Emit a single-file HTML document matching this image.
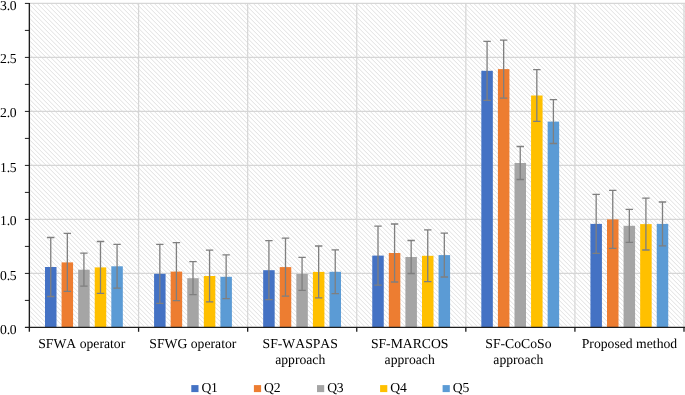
<!DOCTYPE html>
<html><head><meta charset="utf-8"><title>chart</title>
<style>
html,body{margin:0;padding:0;background:#fff;}
body{width:685px;height:395px;overflow:hidden;}
svg{display:block;}
text{font-kerning:none;font-family:"Liberation Serif","Times New Roman",serif;font-size:13.7px;fill:#000;}
</style></head><body>
<svg width="685" height="395" viewBox="0 0 685 395">
<rect x="0" y="0" width="685" height="395" fill="#fff"/>
<clipPath id="pc"><rect x="30.3" y="3.4" width="654.7" height="323.1"/></clipPath>
<path clip-path="url(#pc)" d="M-291.30,3.4l323.10,323.10M-286.80,3.4l323.10,323.10M-282.30,3.4l323.10,323.10M-277.80,3.4l323.10,323.10M-273.30,3.4l323.10,323.10M-268.80,3.4l323.10,323.10M-264.30,3.4l323.10,323.10M-259.80,3.4l323.10,323.10M-255.30,3.4l323.10,323.10M-250.80,3.4l323.10,323.10M-246.30,3.4l323.10,323.10M-241.80,3.4l323.10,323.10M-237.30,3.4l323.10,323.10M-232.80,3.4l323.10,323.10M-228.30,3.4l323.10,323.10M-223.80,3.4l323.10,323.10M-219.30,3.4l323.10,323.10M-214.80,3.4l323.10,323.10M-210.30,3.4l323.10,323.10M-205.80,3.4l323.10,323.10M-201.30,3.4l323.10,323.10M-196.80,3.4l323.10,323.10M-192.30,3.4l323.10,323.10M-187.80,3.4l323.10,323.10M-183.30,3.4l323.10,323.10M-178.80,3.4l323.10,323.10M-174.30,3.4l323.10,323.10M-169.80,3.4l323.10,323.10M-165.30,3.4l323.10,323.10M-160.80,3.4l323.10,323.10M-156.30,3.4l323.10,323.10M-151.80,3.4l323.10,323.10M-147.30,3.4l323.10,323.10M-142.80,3.4l323.10,323.10M-138.30,3.4l323.10,323.10M-133.80,3.4l323.10,323.10M-129.30,3.4l323.10,323.10M-124.80,3.4l323.10,323.10M-120.30,3.4l323.10,323.10M-115.80,3.4l323.10,323.10M-111.30,3.4l323.10,323.10M-106.80,3.4l323.10,323.10M-102.30,3.4l323.10,323.10M-97.80,3.4l323.10,323.10M-93.30,3.4l323.10,323.10M-88.80,3.4l323.10,323.10M-84.30,3.4l323.10,323.10M-79.80,3.4l323.10,323.10M-75.30,3.4l323.10,323.10M-70.80,3.4l323.10,323.10M-66.30,3.4l323.10,323.10M-61.80,3.4l323.10,323.10M-57.30,3.4l323.10,323.10M-52.80,3.4l323.10,323.10M-48.30,3.4l323.10,323.10M-43.80,3.4l323.10,323.10M-39.30,3.4l323.10,323.10M-34.80,3.4l323.10,323.10M-30.30,3.4l323.10,323.10M-25.80,3.4l323.10,323.10M-21.30,3.4l323.10,323.10M-16.80,3.4l323.10,323.10M-12.30,3.4l323.10,323.10M-7.80,3.4l323.10,323.10M-3.30,3.4l323.10,323.10M1.20,3.4l323.10,323.10M5.70,3.4l323.10,323.10M10.20,3.4l323.10,323.10M14.70,3.4l323.10,323.10M19.20,3.4l323.10,323.10M23.70,3.4l323.10,323.10M28.20,3.4l323.10,323.10M32.70,3.4l323.10,323.10M37.20,3.4l323.10,323.10M41.70,3.4l323.10,323.10M46.20,3.4l323.10,323.10M50.70,3.4l323.10,323.10M55.20,3.4l323.10,323.10M59.70,3.4l323.10,323.10M64.20,3.4l323.10,323.10M68.70,3.4l323.10,323.10M73.20,3.4l323.10,323.10M77.70,3.4l323.10,323.10M82.20,3.4l323.10,323.10M86.70,3.4l323.10,323.10M91.20,3.4l323.10,323.10M95.70,3.4l323.10,323.10M100.20,3.4l323.10,323.10M104.70,3.4l323.10,323.10M109.20,3.4l323.10,323.10M113.70,3.4l323.10,323.10M118.20,3.4l323.10,323.10M122.70,3.4l323.10,323.10M127.20,3.4l323.10,323.10M131.70,3.4l323.10,323.10M136.20,3.4l323.10,323.10M140.70,3.4l323.10,323.10M145.20,3.4l323.10,323.10M149.70,3.4l323.10,323.10M154.20,3.4l323.10,323.10M158.70,3.4l323.10,323.10M163.20,3.4l323.10,323.10M167.70,3.4l323.10,323.10M172.20,3.4l323.10,323.10M176.70,3.4l323.10,323.10M181.20,3.4l323.10,323.10M185.70,3.4l323.10,323.10M190.20,3.4l323.10,323.10M194.70,3.4l323.10,323.10M199.20,3.4l323.10,323.10M203.70,3.4l323.10,323.10M208.20,3.4l323.10,323.10M212.70,3.4l323.10,323.10M217.20,3.4l323.10,323.10M221.70,3.4l323.10,323.10M226.20,3.4l323.10,323.10M230.70,3.4l323.10,323.10M235.20,3.4l323.10,323.10M239.70,3.4l323.10,323.10M244.20,3.4l323.10,323.10M248.70,3.4l323.10,323.10M253.20,3.4l323.10,323.10M257.70,3.4l323.10,323.10M262.20,3.4l323.10,323.10M266.70,3.4l323.10,323.10M271.20,3.4l323.10,323.10M275.70,3.4l323.10,323.10M280.20,3.4l323.10,323.10M284.70,3.4l323.10,323.10M289.20,3.4l323.10,323.10M293.70,3.4l323.10,323.10M298.20,3.4l323.10,323.10M302.70,3.4l323.10,323.10M307.20,3.4l323.10,323.10M311.70,3.4l323.10,323.10M316.20,3.4l323.10,323.10M320.70,3.4l323.10,323.10M325.20,3.4l323.10,323.10M329.70,3.4l323.10,323.10M334.20,3.4l323.10,323.10M338.70,3.4l323.10,323.10M343.20,3.4l323.10,323.10M347.70,3.4l323.10,323.10M352.20,3.4l323.10,323.10M356.70,3.4l323.10,323.10M361.20,3.4l323.10,323.10M365.70,3.4l323.10,323.10M370.20,3.4l323.10,323.10M374.70,3.4l323.10,323.10M379.20,3.4l323.10,323.10M383.70,3.4l323.10,323.10M388.20,3.4l323.10,323.10M392.70,3.4l323.10,323.10M397.20,3.4l323.10,323.10M401.70,3.4l323.10,323.10M406.20,3.4l323.10,323.10M410.70,3.4l323.10,323.10M415.20,3.4l323.10,323.10M419.70,3.4l323.10,323.10M424.20,3.4l323.10,323.10M428.70,3.4l323.10,323.10M433.20,3.4l323.10,323.10M437.70,3.4l323.10,323.10M442.20,3.4l323.10,323.10M446.70,3.4l323.10,323.10M451.20,3.4l323.10,323.10M455.70,3.4l323.10,323.10M460.20,3.4l323.10,323.10M464.70,3.4l323.10,323.10M469.20,3.4l323.10,323.10M473.70,3.4l323.10,323.10M478.20,3.4l323.10,323.10M482.70,3.4l323.10,323.10M487.20,3.4l323.10,323.10M491.70,3.4l323.10,323.10M496.20,3.4l323.10,323.10M500.70,3.4l323.10,323.10M505.20,3.4l323.10,323.10M509.70,3.4l323.10,323.10M514.20,3.4l323.10,323.10M518.70,3.4l323.10,323.10M523.20,3.4l323.10,323.10M527.70,3.4l323.10,323.10M532.20,3.4l323.10,323.10M536.70,3.4l323.10,323.10M541.20,3.4l323.10,323.10M545.70,3.4l323.10,323.10M550.20,3.4l323.10,323.10M554.70,3.4l323.10,323.10M559.20,3.4l323.10,323.10M563.70,3.4l323.10,323.10M568.20,3.4l323.10,323.10M572.70,3.4l323.10,323.10M577.20,3.4l323.10,323.10M581.70,3.4l323.10,323.10M586.20,3.4l323.10,323.10M590.70,3.4l323.10,323.10M595.20,3.4l323.10,323.10M599.70,3.4l323.10,323.10M604.20,3.4l323.10,323.10M608.70,3.4l323.10,323.10M613.20,3.4l323.10,323.10M617.70,3.4l323.10,323.10M622.20,3.4l323.10,323.10M626.70,3.4l323.10,323.10M631.20,3.4l323.10,323.10M635.70,3.4l323.10,323.10M640.20,3.4l323.10,323.10M644.70,3.4l323.10,323.10M649.20,3.4l323.10,323.10M653.70,3.4l323.10,323.10M658.20,3.4l323.10,323.10M662.70,3.4l323.10,323.10M667.20,3.4l323.10,323.10M671.70,3.4l323.10,323.10M676.20,3.4l323.10,323.10M680.70,3.4l323.10,323.10" stroke="#d6d6d6" stroke-width="0.75" fill="none"/>
<line x1="29.5" y1="273.40" x2="685" y2="273.40" stroke="#d6d6d6" stroke-width="1.2"/>
<line x1="29.5" y1="219.40" x2="685" y2="219.40" stroke="#d6d6d6" stroke-width="1.2"/>
<line x1="29.5" y1="165.40" x2="685" y2="165.40" stroke="#d6d6d6" stroke-width="1.2"/>
<line x1="29.5" y1="111.40" x2="685" y2="111.40" stroke="#d6d6d6" stroke-width="1.2"/>
<line x1="29.5" y1="57.40" x2="685" y2="57.40" stroke="#d6d6d6" stroke-width="1.2"/>
<line x1="29.5" y1="3.40" x2="685" y2="3.40" stroke="#d6d6d6" stroke-width="1.2"/>
<line x1="138.58" y1="3.4" x2="138.58" y2="327.4" stroke="#d6d6d6" stroke-width="1.2"/>
<line x1="247.67" y1="3.4" x2="247.67" y2="327.4" stroke="#d6d6d6" stroke-width="1.2"/>
<line x1="356.75" y1="3.4" x2="356.75" y2="327.4" stroke="#d6d6d6" stroke-width="1.2"/>
<line x1="465.83" y1="3.4" x2="465.83" y2="327.4" stroke="#d6d6d6" stroke-width="1.2"/>
<line x1="574.92" y1="3.4" x2="574.92" y2="327.4" stroke="#d6d6d6" stroke-width="1.2"/>
<line x1="684.00" y1="3.4" x2="684.00" y2="327.4" stroke="#d6d6d6" stroke-width="1.2"/>
<rect x="45.00" y="267.00" width="11.5" height="60.40" fill="#4472c4"/>
<rect x="61.58" y="262.40" width="11.5" height="65.00" fill="#ed7d31"/>
<rect x="78.16" y="269.70" width="11.5" height="57.70" fill="#a5a5a5"/>
<rect x="94.74" y="267.40" width="11.5" height="60.00" fill="#ffc000"/>
<rect x="111.32" y="266.30" width="11.5" height="61.10" fill="#5b9bd5"/>
<rect x="154.08" y="273.80" width="11.5" height="53.60" fill="#4472c4"/>
<rect x="170.66" y="271.60" width="11.5" height="55.80" fill="#ed7d31"/>
<rect x="187.24" y="278.20" width="11.5" height="49.20" fill="#a5a5a5"/>
<rect x="203.82" y="276.00" width="11.5" height="51.40" fill="#ffc000"/>
<rect x="220.40" y="276.80" width="11.5" height="50.60" fill="#5b9bd5"/>
<rect x="263.17" y="270.20" width="11.5" height="57.20" fill="#4472c4"/>
<rect x="279.75" y="267.10" width="11.5" height="60.30" fill="#ed7d31"/>
<rect x="296.33" y="273.90" width="11.5" height="53.50" fill="#a5a5a5"/>
<rect x="312.91" y="271.90" width="11.5" height="55.50" fill="#ffc000"/>
<rect x="329.49" y="271.80" width="11.5" height="55.60" fill="#5b9bd5"/>
<rect x="372.25" y="255.60" width="11.5" height="71.80" fill="#4472c4"/>
<rect x="388.83" y="253.00" width="11.5" height="74.40" fill="#ed7d31"/>
<rect x="405.41" y="257.00" width="11.5" height="70.40" fill="#a5a5a5"/>
<rect x="421.99" y="255.80" width="11.5" height="71.60" fill="#ffc000"/>
<rect x="438.57" y="255.10" width="11.5" height="72.30" fill="#5b9bd5"/>
<rect x="481.33" y="70.80" width="11.5" height="256.60" fill="#4472c4"/>
<rect x="497.91" y="69.10" width="11.5" height="258.30" fill="#ed7d31"/>
<rect x="514.49" y="163.00" width="11.5" height="164.40" fill="#a5a5a5"/>
<rect x="531.07" y="95.50" width="11.5" height="231.90" fill="#ffc000"/>
<rect x="547.65" y="121.60" width="11.5" height="205.80" fill="#5b9bd5"/>
<rect x="590.42" y="223.90" width="11.5" height="103.50" fill="#4472c4"/>
<rect x="607.00" y="219.40" width="11.5" height="108.00" fill="#ed7d31"/>
<rect x="623.58" y="225.80" width="11.5" height="101.60" fill="#a5a5a5"/>
<rect x="640.16" y="224.10" width="11.5" height="103.30" fill="#ffc000"/>
<rect x="656.74" y="223.90" width="11.5" height="103.50" fill="#5b9bd5"/>
<path d="M50.75,237.50V296.50M47.05,237.50H54.45M47.05,296.50H54.45" stroke="#7f7f7f" stroke-width="1.3" fill="none"/>
<path d="M67.33,233.40V291.40M63.63,233.40H71.03M63.63,291.40H71.03" stroke="#7f7f7f" stroke-width="1.3" fill="none"/>
<path d="M83.91,253.20V286.20M80.21,253.20H87.61M80.21,286.20H87.61" stroke="#7f7f7f" stroke-width="1.3" fill="none"/>
<path d="M100.49,241.50V293.30M96.79,241.50H104.19M96.79,293.30H104.19" stroke="#7f7f7f" stroke-width="1.3" fill="none"/>
<path d="M117.07,244.40V288.20M113.37,244.40H120.77M113.37,288.20H120.77" stroke="#7f7f7f" stroke-width="1.3" fill="none"/>
<path d="M159.83,244.30V303.30M156.13,244.30H163.53M156.13,303.30H163.53" stroke="#7f7f7f" stroke-width="1.3" fill="none"/>
<path d="M176.41,242.60V300.60M172.71,242.60H180.11M172.71,300.60H180.11" stroke="#7f7f7f" stroke-width="1.3" fill="none"/>
<path d="M192.99,261.70V294.70M189.29,261.70H196.69M189.29,294.70H196.69" stroke="#7f7f7f" stroke-width="1.3" fill="none"/>
<path d="M209.57,250.10V301.90M205.87,250.10H213.27M205.87,301.90H213.27" stroke="#7f7f7f" stroke-width="1.3" fill="none"/>
<path d="M226.15,254.90V298.70M222.45,254.90H229.85M222.45,298.70H229.85" stroke="#7f7f7f" stroke-width="1.3" fill="none"/>
<path d="M268.92,240.70V299.70M265.22,240.70H272.62M265.22,299.70H272.62" stroke="#7f7f7f" stroke-width="1.3" fill="none"/>
<path d="M285.50,238.10V296.10M281.80,238.10H289.20M281.80,296.10H289.20" stroke="#7f7f7f" stroke-width="1.3" fill="none"/>
<path d="M302.08,257.40V290.40M298.38,257.40H305.78M298.38,290.40H305.78" stroke="#7f7f7f" stroke-width="1.3" fill="none"/>
<path d="M318.66,246.00V297.80M314.96,246.00H322.36M314.96,297.80H322.36" stroke="#7f7f7f" stroke-width="1.3" fill="none"/>
<path d="M335.24,249.90V293.70M331.54,249.90H338.94M331.54,293.70H338.94" stroke="#7f7f7f" stroke-width="1.3" fill="none"/>
<path d="M378.00,226.10V285.10M374.30,226.10H381.70M374.30,285.10H381.70" stroke="#7f7f7f" stroke-width="1.3" fill="none"/>
<path d="M394.58,224.00V282.00M390.88,224.00H398.28M390.88,282.00H398.28" stroke="#7f7f7f" stroke-width="1.3" fill="none"/>
<path d="M411.16,240.50V273.50M407.46,240.50H414.86M407.46,273.50H414.86" stroke="#7f7f7f" stroke-width="1.3" fill="none"/>
<path d="M427.74,229.90V281.70M424.04,229.90H431.44M424.04,281.70H431.44" stroke="#7f7f7f" stroke-width="1.3" fill="none"/>
<path d="M444.32,233.20V277.00M440.62,233.20H448.02M440.62,277.00H448.02" stroke="#7f7f7f" stroke-width="1.3" fill="none"/>
<path d="M487.08,41.30V100.30M483.38,41.30H490.78M483.38,100.30H490.78" stroke="#7f7f7f" stroke-width="1.3" fill="none"/>
<path d="M503.66,40.10V98.10M499.96,40.10H507.36M499.96,98.10H507.36" stroke="#7f7f7f" stroke-width="1.3" fill="none"/>
<path d="M520.24,146.50V179.50M516.54,146.50H523.94M516.54,179.50H523.94" stroke="#7f7f7f" stroke-width="1.3" fill="none"/>
<path d="M536.82,69.60V121.40M533.12,69.60H540.52M533.12,121.40H540.52" stroke="#7f7f7f" stroke-width="1.3" fill="none"/>
<path d="M553.40,99.70V143.50M549.70,99.70H557.10M549.70,143.50H557.10" stroke="#7f7f7f" stroke-width="1.3" fill="none"/>
<path d="M596.17,194.40V253.40M592.47,194.40H599.87M592.47,253.40H599.87" stroke="#7f7f7f" stroke-width="1.3" fill="none"/>
<path d="M612.75,190.40V248.40M609.05,190.40H616.45M609.05,248.40H616.45" stroke="#7f7f7f" stroke-width="1.3" fill="none"/>
<path d="M629.33,209.30V242.30M625.63,209.30H633.03M625.63,242.30H633.03" stroke="#7f7f7f" stroke-width="1.3" fill="none"/>
<path d="M645.91,198.20V250.00M642.21,198.20H649.61M642.21,250.00H649.61" stroke="#7f7f7f" stroke-width="1.3" fill="none"/>
<path d="M662.49,202.00V245.80M658.79,202.00H666.19M658.79,245.80H666.19" stroke="#7f7f7f" stroke-width="1.3" fill="none"/>
<line x1="29.35" y1="3.0" x2="29.35" y2="331.79999999999995" stroke="#1e1e1e" stroke-width="1.35"/>
<line x1="24.9" y1="327.4" x2="685" y2="327.4" stroke="#1e1e1e" stroke-width="1.25"/>
<line x1="24.9" y1="300.40" x2="29.35" y2="300.40" stroke="#1e1e1e" stroke-width="1.0"/>
<line x1="24.9" y1="273.40" x2="29.35" y2="273.40" stroke="#1e1e1e" stroke-width="1.0"/>
<line x1="24.9" y1="246.40" x2="29.35" y2="246.40" stroke="#1e1e1e" stroke-width="1.0"/>
<line x1="24.9" y1="219.40" x2="29.35" y2="219.40" stroke="#1e1e1e" stroke-width="1.0"/>
<line x1="24.9" y1="192.40" x2="29.35" y2="192.40" stroke="#1e1e1e" stroke-width="1.0"/>
<line x1="24.9" y1="165.40" x2="29.35" y2="165.40" stroke="#1e1e1e" stroke-width="1.0"/>
<line x1="24.9" y1="138.40" x2="29.35" y2="138.40" stroke="#1e1e1e" stroke-width="1.0"/>
<line x1="24.9" y1="111.40" x2="29.35" y2="111.40" stroke="#1e1e1e" stroke-width="1.0"/>
<line x1="24.9" y1="84.40" x2="29.35" y2="84.40" stroke="#1e1e1e" stroke-width="1.0"/>
<line x1="24.9" y1="57.40" x2="29.35" y2="57.40" stroke="#1e1e1e" stroke-width="1.0"/>
<line x1="24.9" y1="30.40" x2="29.35" y2="30.40" stroke="#1e1e1e" stroke-width="1.0"/>
<line x1="24.9" y1="3.40" x2="29.35" y2="3.40" stroke="#1e1e1e" stroke-width="1.0"/>
<line x1="138.58" y1="327.4" x2="138.58" y2="331.79999999999995" stroke="#1e1e1e" stroke-width="1.3"/>
<line x1="247.67" y1="327.4" x2="247.67" y2="331.79999999999995" stroke="#1e1e1e" stroke-width="1.3"/>
<line x1="356.75" y1="327.4" x2="356.75" y2="331.79999999999995" stroke="#1e1e1e" stroke-width="1.3"/>
<line x1="465.83" y1="327.4" x2="465.83" y2="331.79999999999995" stroke="#1e1e1e" stroke-width="1.3"/>
<line x1="574.92" y1="327.4" x2="574.92" y2="331.79999999999995" stroke="#1e1e1e" stroke-width="1.3"/>
<line x1="684.00" y1="327.4" x2="684.00" y2="331.79999999999995" stroke="#1e1e1e" stroke-width="1.3"/>
<text transform="translate(0.00,333.50) matrix(1,0,0.0006,1,0,0)" letter-spacing="-0.2">0.0</text>
<text transform="translate(0.00,279.50) matrix(1,0,0.0006,1,0,0)" letter-spacing="-0.2">0.5</text>
<text transform="translate(0.00,225.40) matrix(1,0,0.0006,1,0,0)" letter-spacing="-0.2">1.0</text>
<text transform="translate(0.00,171.50) matrix(1,0,0.0006,1,0,0)" letter-spacing="-0.2">1.5</text>
<text transform="translate(0.00,117.20) matrix(1,0,0.0006,1,0,0)" letter-spacing="-0.2">2.0</text>
<text transform="translate(0.00,63.10) matrix(1,0,0.0006,1,0,0)" letter-spacing="-0.2">2.5</text>
<text transform="translate(0.00,9.70) matrix(1,0,0.0006,1,0,0)" letter-spacing="-0.2">3.0</text>
<text transform="translate(81.74,348.40) matrix(1,0,0.0006,1,0,0)" text-anchor="middle">SFWA operator</text>
<text transform="translate(192.82,348.40) matrix(1,0,0.0006,1,0,0)" text-anchor="middle">SFWG operator</text>
<text transform="translate(300.21,348.40) matrix(1,0,0.0006,1,0,0)" text-anchor="middle">SF-WASPAS</text>
<text transform="translate(300.21,364.00) matrix(1,0,0.0006,1,0,0)" text-anchor="middle">approach</text>
<text transform="translate(409.69,348.40) matrix(1,0,0.0006,1,0,0)" text-anchor="middle">SF-MARCOS</text>
<text transform="translate(409.69,364.00) matrix(1,0,0.0006,1,0,0)" text-anchor="middle">approach</text>
<text transform="translate(518.38,348.40) matrix(1,0,0.0006,1,0,0)" text-anchor="middle">SF-CoCoSo</text>
<text transform="translate(518.38,364.00) matrix(1,0,0.0006,1,0,0)" text-anchor="middle">approach</text>
<text transform="translate(629.46,348.40) matrix(1,0,0.0006,1,0,0)" text-anchor="middle">Proposed method</text>
<rect x="191.3" y="385.1" width="7.2" height="7" fill="#4472c4"/>
<text transform="translate(201.50,392.30) matrix(1,0,0.0006,1,0,0)" letter-spacing="-0.3">Q1</text>
<rect x="253.9" y="385.1" width="7.2" height="7" fill="#ed7d31"/>
<text transform="translate(264.10,392.30) matrix(1,0,0.0006,1,0,0)" letter-spacing="-0.3">Q2</text>
<rect x="317.0" y="385.1" width="7.2" height="7" fill="#a5a5a5"/>
<text transform="translate(327.20,392.30) matrix(1,0,0.0006,1,0,0)" letter-spacing="-0.3">Q3</text>
<rect x="380.1" y="385.1" width="7.2" height="7" fill="#ffc000"/>
<text transform="translate(390.30,392.30) matrix(1,0,0.0006,1,0,0)" letter-spacing="-0.3">Q4</text>
<rect x="442.6" y="385.1" width="7.2" height="7" fill="#5b9bd5"/>
<text transform="translate(452.80,392.30) matrix(1,0,0.0006,1,0,0)" letter-spacing="-0.3">Q5</text>
</svg>
</body></html>
